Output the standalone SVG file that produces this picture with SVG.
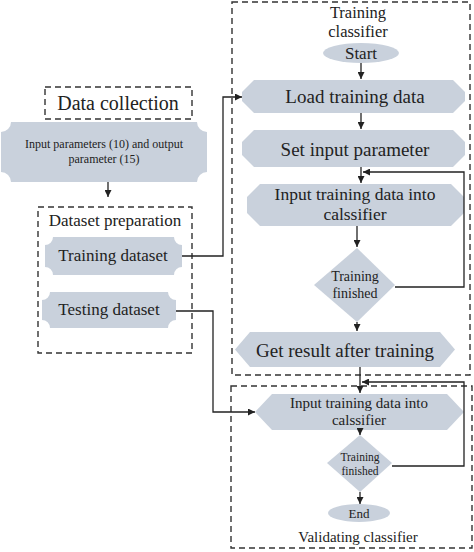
<svg xmlns="http://www.w3.org/2000/svg" width="474" height="552" viewBox="0 0 474 552">
<defs>
<marker id="ah" viewBox="0 0 10 10" refX="10" refY="5" markerWidth="7" markerHeight="7" markerUnits="userSpaceOnUse" orient="auto"><path d="M0 0 L10 5 L0 10 Z" fill="#222"/></marker>
<style>
.box{fill:none;stroke:#333;stroke-width:1.4;stroke-dasharray:6 4}
.n{fill:#c9d1dc;stroke:none}
.t{font-family:'Liberation Serif','Times New Roman',serif;fill:#222;text-anchor:middle}
.c{fill:none;stroke:#222;stroke-width:1.3}
.a{marker-end:url(#ah)}
</style>
</defs>
<rect width="474" height="552" fill="#fff"/>
<g id="frames">
<rect class="box" x="45" y="87" width="147" height="32"/>
<rect class="box" x="38" y="207" width="154" height="146"/>
<rect class="box" x="232" y="2" width="238" height="373"/>
<rect class="box" x="231" y="386" width="241" height="162"/>
</g>
<g id="data-collection"><text class="t" x="118" y="110" font-size="20">Data collection</text></g>
<g id="input-params">
<path class="n" d="M11 122 H197 A10 10 0 0 0 207 132 V172 A10 10 0 0 0 197 182 H11 A10 10 0 0 0 1 172 V132 A10 10 0 0 0 11 122 Z"/>
<text class="t" x="104" y="148" font-size="12">Input parameters (10) and output</text>
<text class="t" x="104" y="163" font-size="12">parameter (15)</text>
</g>
<g id="dataset-prep"><text class="t" x="115" y="226" font-size="17">Dataset preparation</text></g>
<g id="training-dataset">
<path class="n" d="M53 237 H174 A8 8 0 0 0 182 245 V267 A8 8 0 0 0 174 275 H53 A8 8 0 0 0 45 267 V245 A8 8 0 0 0 53 237 Z"/>
<text class="t" x="113" y="261" font-size="17">Training dataset</text>
</g>
<g id="testing-dataset">
<path class="n" d="M50 292 H168 A8 8 0 0 0 176 300 V320 A8 8 0 0 0 168 328 H50 A8 8 0 0 0 42 320 V300 A8 8 0 0 0 50 292 Z"/>
<text class="t" x="109" y="315" font-size="17">Testing dataset</text>
</g>
<g id="training-classifier">
<text class="t" x="358" y="18" font-size="16.5">Training</text>
<text class="t" x="358" y="37" font-size="16.5">classifier</text>
</g>
<g id="start">
<ellipse class="n" cx="361" cy="53" rx="38" ry="10"/>
<text class="t" x="361" y="59" font-size="17">Start</text>
</g>
<g id="load">
<path class="n" d="M254 80 H453 L465 92 V101 L453 113 H254 L242 101 V92 Z"/>
<text class="t" x="355" y="103" font-size="19">Load training data</text>
</g>
<g id="set">
<path class="n" d="M254 130 H453 L465 142 V155 L453 167 H254 L242 155 V142 Z"/>
<text class="t" x="355" y="156" font-size="19">Set input parameter</text>
</g>
<g id="input1">
<path class="n" d="M260 184 H451 L464 197 V213 L451 226 H260 L247 213 V197 Z"/>
<text class="t" x="355" y="200" font-size="17.5">Input training data into</text>
<text class="t" x="355" y="220" font-size="17.5">calssifier</text>
</g>
<g id="finished1">
<path class="n" d="M357 248 L395 285 L357 322 L314 285 Z"/>
<text class="t" x="355" y="281" font-size="14">Training</text>
<text class="t" x="355" y="298" font-size="14">finished</text>
</g>
<g id="result">
<path class="n" d="M250 332 H440 L455 349.5 L440 367 H250 L235 349.5 Z"/>
<text class="t" x="345" y="357" font-size="19">Get result after training</text>
</g>
<g id="validating-classifier"><text class="t" x="358" y="542" font-size="15">Validating classifier</text></g>
<g id="input2">
<path class="n" d="M272 394 H447 L464 412 L447 430 H272 L255 412 Z"/>
<text class="t" x="359" y="408" font-size="15">Input training data into</text>
<text class="t" x="359" y="425" font-size="15">calssifier</text>
</g>
<g id="finished2">
<path class="n" d="M360 435 L392 463 L360 492 L327 463 Z"/>
<text class="t" x="360" y="461" font-size="11.5">Training</text>
<text class="t" x="360" y="475" font-size="11.5">finished</text>
</g>
<g id="end">
<ellipse class="n" cx="359" cy="513" rx="31" ry="9"/>
<text class="t" x="359" y="518" font-size="13">End</text>
</g>
<g id="connectors">
<path class="c a" d="M108 182 V197"/>
<path class="c a" d="M182 256 H223 V97 H242"/>
<path class="c a" d="M176 311 H213 V412 H255"/>
<path class="c a" d="M361 63 V79"/>
<path class="c a" d="M361 113 V129"/>
<path class="c a" d="M361 167 V183"/>
<path class="c a" d="M395 287 H464 V172 H363"/>
<path class="c a" d="M357 226 V247"/>
<path class="c a" d="M357 322 V331"/>
<path class="c a" d="M360 367 V393"/>
<path class="c a" d="M392 466 H464 V382 H362"/>
<path class="c a" d="M360 430 V435"/>
<path class="c a" d="M360 492 V504"/>
</g>
</svg>
